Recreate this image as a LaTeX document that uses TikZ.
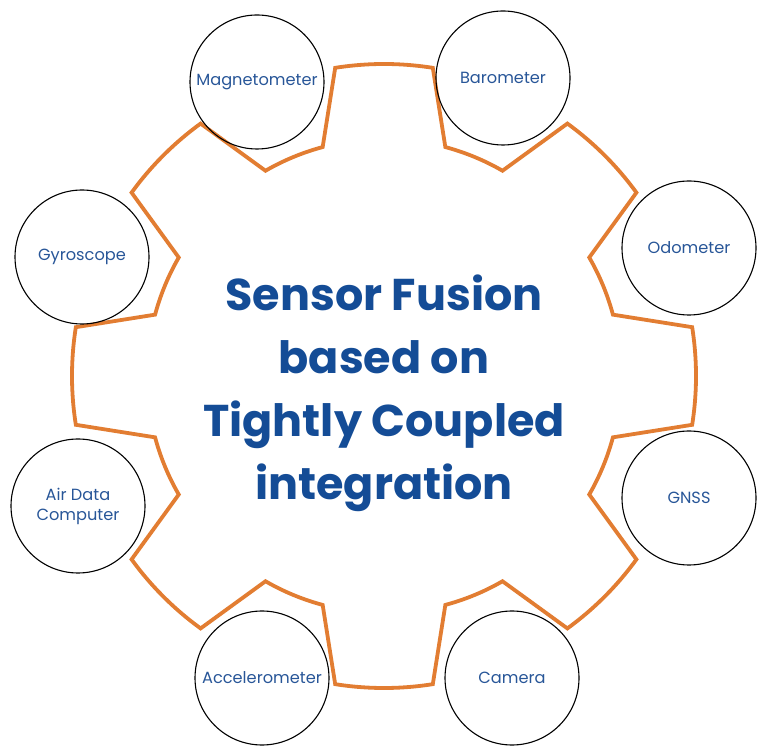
\documentclass[tikz,border=0pt]{standalone}
\usepackage{fontspec}
\setmainfont{Poppins}
\definecolor{gearorange}{RGB}{226,125,50}
\definecolor{titleblue}{RGB}{20,76,150}
\definecolor{labelblue}{RGB}{40,86,152}
\begin{document}
\begin{tikzpicture}[x=1pt,y=1pt,
  sensor/.style={circle,draw=black,line width=1.1pt,minimum size=134pt,inner sep=0pt,
    text=labelblue,font=\fontsize{16.2}{20}\selectfont,align=center},
  gearline/.style={draw=gearorange,line width=3.8pt,line join=miter}]
\useasboundingbox (0,0) rectangle (768,755);
\coordinate (c) at (384,379);
\begin{scope}[shift={(c)}]
\draw[gearline] (-15:237)
  \foreach \k in {0,...,7} {
    -- ({45*\k-9}:312) arc[start angle={45*\k-9}, delta angle=18, radius=312]
    -- ({45*\k+15}:237) arc[start angle={45*\k+15}, delta angle=15, radius=237]
  } -- cycle;
\end{scope}
\node[sensor] (mag) at (257,673) {Magnetometer};
\node[sensor] (bar) at (503,677) {Barometer};
\node[sensor] (odo) at (689,507) {Odometer};
\node[sensor] (gnss) at (689,257) {GNSS};
\node[sensor] (cam) at (512,77) {Camera};
\node[sensor] (acc) at (262,77) {Accelerometer};
\node[sensor] (adc) at (78,249) {Air Data\\Computer};
\node[sensor] (gyro) at (82,498) {Gyroscope};
\node[text=titleblue,font=\fontsize{44.5}{63}\bfseries\selectfont,align=center,inner sep=0pt]
  (title) at (384,362) {Sensor Fusion\\based on\\Tightly Coupled\\integration};
\end{tikzpicture}
\end{document}
